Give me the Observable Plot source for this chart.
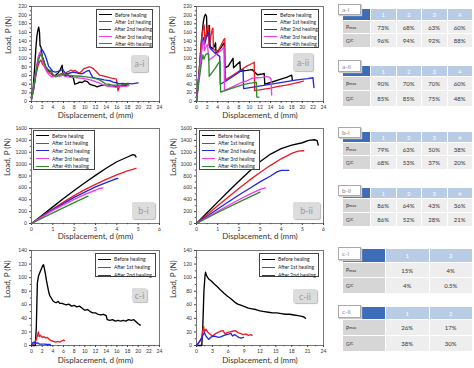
<!DOCTYPE html>
<html><head><meta charset="utf-8">
<script src="https://cdn.jsdelivr.net/npm/d3@7"></script>
<script src="https://cdn.jsdelivr.net/npm/@observablehq/plot@0.6"></script>
<style>
body{margin:0;background:#fff;font-family:Lato,"Open Sans",sans-serif;}
#root{position:relative;width:474px;height:368px;overflow:hidden;background:#fff;}
.abs{position:absolute;}
.legend{position:absolute;border:1px solid #444;background:#fff;box-sizing:border-box;font-size:5px;color:#222;padding:1px 0 0 2px;}
.legend .row{display:flex;align-items:center;white-space:nowrap;}
.legend .sw{display:inline-block;width:13px;height:0;margin-right:3px;}
.tagbox{position:absolute;background:#dcdcdc;border-radius:2px;box-shadow:1px 1px 1px #bbb;color:#9a9a9a;font-size:9px;display:flex;align-items:center;justify-content:center;}
.tbl{position:absolute;display:grid;gap:1px;background:#fff;}
.tbl div{display:flex;align-items:center;justify-content:center;font-size:6px;color:#333;}
.tbl .hd0{background:#3d6db8;}
.tbl .hd{background:#b8cce6;color:#fff;}
.tbl .lab{background:#d6d6d6;justify-content:flex-start;padding-left:3px;font-size:5px;}
.tbl .cell{background:#eeeeee;}
.tab{position:absolute;background:#fff;border:1px solid #aaa;box-shadow:1px 1px 1px #ccc;color:#888;font-size:6.5px;box-sizing:border-box;padding-left:3px;display:flex;align-items:center;}
</style>
</head><body><div id="root"></div>
<script>
// ---------- data ----------
const legend5 = ["Before healing","After 1st healing","After 2nd healing","After 3rd healing","After 4th healing"];
const legend3 = ["Before healing","After 1st healing","After 2nd healing"];
const seriesColors = ["#000000","#ec1c24","#2128e0","#f03cf0","#2e8b2e"];

// a-i : Load (N) vs displacement (mm)
const ai_before = [[0,8],[0.3,30],[0.6,80],[0.8,120],[1.0,150],[1.2,165],[1.35,172],[1.5,160],[1.6,130],[1.8,125],[2.0,105],[2.3,95],[2.6,82],[3.0,75],[3.3,70],[3.6,72],[3.9,62],[4.2,58],[4.6,62],[5.0,66],[5.4,74],[5.75,84],[5.9,62],[6.3,60],[6.8,62],[7.2,58],[7.6,60],[7.9,52],[8.1,40],[8.6,42],[9.0,45],[9.5,44],[10.0,48],[10.5,46],[10.9,40],[11.4,38],[11.9,36],[12.3,34],[12.8,36],[13.4,38],[14.0,37],[14.5,36],[15.0,35],[15.5,36],[16.0,34],[16.5,36],[17.0,37],[17.5,36],[18.0,39],[18.2,41]];
const ai_h1 = [[0,5],[0.4,30],[0.8,60],[1.2,82],[1.5,92],[1.75,96],[2.0,88],[2.3,83],[2.7,76],[3.0,70],[3.3,67],[3.7,64],[4.1,60],[4.5,58],[4.9,60],[5.3,63],[5.8,65],[6.2,62],[6.6,68],[7.0,70],[7.4,73],[7.8,70],[8.2,72],[8.6,68],[9.0,66],[9.4,70],[9.8,76],[10.3,78],[10.8,80],[11.2,79],[11.6,76],[12.0,71],[12.4,66],[12.8,61],[13.2,60],[13.8,58],[14.4,56],[15.0,54],[15.5,53],[15.9,52],[16.1,40],[16.2,25],[16.5,34],[17.0,39],[17.5,40],[18.0,42]];
const ai_h2 = [[0,5],[0.4,28],[0.8,62],[1.2,92],[1.6,112],[1.95,121],[2.2,116],[2.6,106],[2.9,95],[3.2,82],[3.6,76],[4.0,70],[4.5,68],[5.0,70],[5.5,72],[5.9,74],[6.3,66],[6.7,64],[7.2,66],[7.8,68],[8.3,67],[8.8,65],[9.3,64],[9.8,66],[10.3,70],[10.8,72],[11.2,62],[11.5,56],[12.0,54],[12.5,53],[13.0,52],[13.6,50],[14.2,49],[14.8,48],[15.3,45],[15.8,44],[16.4,41],[17.0,42],[17.6,41],[18.2,42],[18.8,41],[19.4,42],[20.0,43]];
const ai_h3 = [[0,5],[0.4,32],[0.8,70],[1.2,100],[1.5,112],[1.7,115],[1.9,105],[2.2,88],[2.5,78],[2.9,68],[3.3,62],[3.8,57],[4.3,58],[4.8,60],[5.3,58],[5.8,61],[6.3,58],[6.8,57],[7.4,56],[8.0,56],[8.6,55],[9.2,54],[9.8,53],[10.4,52],[11.0,50],[11.6,48],[12.3,45],[12.9,42],[13.5,38],[14.1,37],[14.7,35],[15.3,34],[15.9,33],[16.5,34],[17.1,35],[17.7,35],[18.3,37]];
const ai_h4 = [[0,6],[0.4,30],[0.8,66],[1.2,92],[1.5,104],[1.85,110],[2.1,100],[2.4,88],[2.7,80],[3.1,74],[3.6,71],[4.0,64],[4.5,57],[5.0,60],[5.5,63],[6.0,64],[6.5,62],[7.0,61],[7.6,60],[8.2,59],[8.8,59],[9.5,58],[10.2,57],[10.8,56],[11.4,55],[12.0,53],[12.5,51],[12.9,49],[13.4,45],[13.9,41],[14.5,40],[15.2,38],[15.8,38],[16.4,37],[17.0,38],[17.6,39],[18.2,41]];

// a-ii
const aii_before = [[0,0],[0.5,70],[1.0,150],[1.3,185],[1.5,197],[1.7,202],[1.9,197],[2.0,152],[2.3,172],[2.45,176],[2.55,128],[3.0,122],[3.4,128],[3.6,136],[3.7,110],[4.2,118],[4.7,126],[5.1,134],[5.25,136],[5.35,78],[6.0,82],[6.5,92],[6.9,100],[7.0,78],[7.6,85],[8.2,92],[8.3,70],[9.5,72],[10.5,74],[11.5,62],[12.2,63],[12.8,65],[12.9,40],[14.0,44],[15.5,50],[17.0,56],[18.0,61],[18.1,50]];
const aii_h1 = [[0,0],[0.5,70],[1.0,150],[1.3,172],[1.45,177],[1.6,140],[1.9,160],[2.1,172],[2.25,176],[2.35,130],[2.7,150],[3.0,168],[3.1,170],[3.2,122],[3.7,115],[4.2,120],[4.7,132],[5.1,142],[5.35,146],[5.45,50],[6.5,58],[7.5,66],[8.5,74],[9.5,82],[10.5,88],[10.9,91],[11.0,25],[12.5,28],[14.0,31],[15.5,35],[17.0,38],[18.5,42],[20.2,47]];
const aii_h2 = [[0,0],[0.5,65],[1.0,125],[1.3,148],[1.5,130],[1.8,145],[2.1,155],[2.4,160],[2.5,125],[3.0,118],[3.5,112],[4.0,108],[4.4,104],[4.5,40],[5.5,47],[6.5,55],[7.5,63],[8.5,72],[8.8,74],[8.9,30],[11,34],[13,38],[15,42],[17,46],[19,50],[21,53],[22.0,55],[22.2,32]];
const aii_h3 = [[0,0],[0.5,60],[1.0,120],[1.2,138],[1.4,140],[1.5,118],[1.8,128],[2.1,132],[2.3,95],[2.8,100],[3.3,105],[3.8,110],[4.3,115],[4.8,120],[5.1,125],[5.2,126],[5.3,25],[6.5,32],[7.5,38],[8.5,44],[9.5,48],[10.2,52],[10.5,54],[11.5,55],[12.5,56],[13.2,58],[13.8,56],[14.1,52],[14.2,15]];
const aii_h4 = [[0,0],[0.5,50],[1.0,95],[1.2,108],[1.4,98],[1.7,108],[2.0,111],[2.3,110],[2.4,58],[3.0,68],[3.5,76],[4.0,86],[4.3,91],[4.45,92],[4.55,22],[5.5,26],[6.5,30],[7.5,34],[8.5,38],[9.5,41],[10.5,43],[11.3,45],[11.4,10],[11.8,10]];

// b-i
const bi_before = [[0,0],[0.5,140],[1,280],[1.5,420],[2,555],[2.5,685],[3,810],[3.5,930],[4,1040],[4.5,1120],[4.75,1160],[4.85,1150],[4.9,1120]];
const bi_h1 = [[0,0],[0.5,125],[1,245],[1.5,360],[2,470],[2.5,570],[3,660],[3.5,745],[4,820],[4.5,885],[4.9,930]];
const bi_h2 = [[0,0],[1,235],[2,440],[2.5,530],[3,615],[3.5,690],[3.9,745],[4.05,760]];
const bi_h3 = [[0,0],[1,220],[2,405],[2.5,490],[3,560],[3.2,590],[3.35,600]];
const bi_h4 = [[0,0],[1,180],[2,350],[2.65,460]];

// b-ii
const bii_before = [[0,0],[0.5,180],[1,360],[1.5,540],[2,710],[2.5,880],[3,1040],[3.5,1170],[4,1260],[4.5,1320],[5,1360],[5.3,1400],[5.6,1410],[5.7,1395],[5.75,1320]];
const bii_h1 = [[0,0],[1,300],[2,590],[2.5,730],[3,860],[3.5,980],[4,1090],[4.5,1180],[4.8,1220],[5.07,1225]];
const bii_h2 = [[0,0],[1,245],[2,480],[2.5,590],[3,700],[3.5,800],[3.8,870],[4.0,895],[4.36,895]];
const bii_h3 = [[0,0],[1,205],[2,400],[2.5,490],[3,575],[3.26,600]];
const bii_h4 = [[0,0],[1,185],[2,360],[3,530]];

// c-i
const ci_before = [[0,0],[0.7,0],[0.9,25],[1.0,60],[1.1,92],[1.3,102],[1.5,106],[1.7,110],[1.9,114],[2.1,118],[2.25,119],[2.4,114],[2.6,106],[2.8,96],[3.0,88],[3.2,80],[3.4,74],[3.7,70],[4.0,66],[4.3,64],[4.6,63],[5.0,65],[5.3,62],[5.7,62],[6.1,61],[6.5,60],[7.0,61],[7.5,58],[8.0,59],[8.5,57],[9.0,58],[9.5,55],[10.0,52],[10.5,53],[11.0,50],[11.5,48],[12.0,48],[12.5,46],[13.0,45],[13.5,46],[14.0,44],[14.2,38],[14.7,37],[15.2,38],[15.7,36],[16.2,37],[16.7,36],[17.2,37],[17.7,36],[18.2,38],[18.7,37],[19.2,38],[19.6,35],[20.0,32],[20.4,30]];
const ci_h1 = [[0,0],[0.4,2],[0.7,6],[0.9,9],[1.1,14],[1.3,20],[1.45,13],[1.7,15],[2.0,12],[2.3,13],[2.7,11],[3.0,12],[3.3,9],[3.7,7],[4.1,6],[4.5,5],[4.9,6],[5.3,5],[5.7,7],[6.0,8],[6.2,7]];
const ci_h2 = [[0,0],[0.2,4],[0.5,5],[0.8,3],[1.1,4],[1.5,2],[2.0,2],[2.5,2],[3.0,1.5],[3.5,1.5],[3.6,0]];

// c-ii
const cii_before = [[0,0],[1.0,0],[1.2,30],[1.4,80],[1.6,102],[1.7,108],[1.9,103],[2.3,98],[2.8,95],[3.3,91],[3.9,87],[4.5,82],[5.2,77],[5.8,73],[6.5,69],[7.2,64],[7.8,61],[8.5,59],[9.2,57],[9.8,55],[10.5,54],[11.2,53],[12.0,51],[12.8,50],[13.6,49],[14.4,48],[15.2,48],[16.0,47],[16.8,46],[17.6,46],[18.4,45],[19.2,44],[19.9,43],[20.3,42],[20.6,40]];
const cii_h1 = [[0,0],[0.6,6],[1.0,12],[1.2,22],[1.35,28],[1.5,20],[1.8,24],[2.1,20],[2.5,17],[3.0,14],[3.5,17],[4.0,19],[4.5,21],[5.0,22],[5.4,17],[5.8,19],[6.3,20],[6.8,21],[7.3,22],[7.8,19],[8.3,18],[8.8,16],[9.3,17],[9.8,15],[10.3,16],[10.5,15]];
const cii_h2 = [[0,0],[0.6,6],[1.0,11],[1.3,17],[1.5,19],[1.7,15],[2.0,12],[2.3,9],[2.7,12],[3.2,14],[3.7,13],[4.2,12],[4.7,13],[5.2,15],[5.7,16],[6.2,17],[6.5,18],[6.8,14],[7.2,16],[7.6,14],[8.0,12],[8.4,11],[8.9,12]];

// tick values
const ticksX24 = [0,2,4,6,8,10,12,14,16,18,20,22,24];
const ticksX24by3 = [0,3,6,9,12,15,18,21,24];
const ticksX6 = [0,1,2,3,4,5,6];
const ticksY220 = [0,20,40,60,80,100,120,140,160,180,200,220];
const ticksY1600 = [0,200,400,600,800,1000,1200,1400,1600];
const ticksY140 = [0,20,40,60,80,100,120,140];

// tables
const tableHead4 = ["1","2","3","4"];
const tableHead2 = ["1","2"];
const rowLabels = ["Pmax","GIC"];
const ai_pmax = ["73%","68%","63%","60%"],  ai_gic = ["96%","94%","92%","88%"];
const aii_pmax = ["90%","70%","70%","60%"], aii_gic = ["85%","85%","75%","48%"];
const bi_pmax = ["79%","63%","50%","38%"],  bi_gic = ["68%","53%","37%","20%"];
const bii_pmax = ["86%","64%","43%","36%"], bii_gic = ["86%","52%","28%","21%"];
const ci_pmax = ["15%","4%"],  ci_gic = ["4%","0.5%"];
const cii_pmax = ["26%","17%"], cii_gic = ["38%","30%"];

// ---------- drawing ----------
const root = document.getElementById("root");

function minorOf(ticks){ const out=[]; for(let i=0;i<ticks.length-1;i++) out.push((ticks[i]+ticks[i+1])/2); return out; }
const plainFmt = d => String(d);

function panel(p){
  const marks = [
    Plot.frame({stroke:"#555", strokeWidth:0.8}),
    Plot.axisX({ticks:p.xt, tickSize:2, tickPadding:1.5, fontSize:5, label:null, tickFormat:plainFmt, stroke:"#444", fill:"#333"}),
    Plot.axisX({ticks:minorOf(p.xt), tickSize:1.2, tickFormat:()=>"", label:null, stroke:"#444"}),
    Plot.axisY({ticks:p.yt, tickSize:2, tickPadding:2.5, fontSize:5, label:null, tickFormat:plainFmt, stroke:"#444", fill:"#333"}),
    Plot.axisY({ticks:minorOf(p.yt), tickSize:1.2, tickFormat:()=>"", label:null, stroke:"#444"}),
    ...p.series.map((s,i)=>Plot.line(s,{x:d=>d[0], y:d=>d[1], stroke:seriesColors[i], strokeWidth:1.35})),
    Plot.text(["Displacement, d (mm)"],{frameAnchor:"bottom", dy:p.xlabDy, text:d=>d, fontSize:8, fill:"#333"}),
    Plot.text(["Load, P (N)"],{frameAnchor:"left", dx:p.ylabDx, rotate:-90, text:d=>d, fontSize:8, fill:"#333"})
  ];
  const svg = Plot.plot({
    width:p.w, height:p.h,
    marginLeft:p.ml, marginRight:p.mr, marginTop:p.mt, marginBottom:p.mb,
    x:{domain:p.xd}, y:{domain:p.yd},
    style:{fontFamily:"Lato, 'Open Sans', sans-serif", background:"transparent", overflow:"visible"},
    marks
  });
  const wrap = document.createElement("div");
  wrap.className="abs"; wrap.style.left=p.left+"px"; wrap.style.top=p.top+"px";
  wrap.appendChild(svg); root.appendChild(wrap);

  // legend
  const lg = document.createElement("div");
  lg.className="legend";
  Object.assign(lg.style,{left:p.lg[0]+"px", top:p.lg[1]+"px", width:p.lg[2]+"px", height:p.lg[3]+"px"});
  p.labels.forEach((t,i)=>{
    const r=document.createElement("div"); r.className="row"; r.style.height=p.lgRow+"px";
    const sw=document.createElement("span"); sw.className="sw"; sw.style.borderTop="1.5px solid "+seriesColors[i];
    r.appendChild(sw); r.appendChild(document.createTextNode(t)); lg.appendChild(r);
  });
  root.appendChild(lg);

  // tag box
  const tg=document.createElement("div"); tg.className="tagbox";
  Object.assign(tg.style,{left:p.tag[0]+"px", top:p.tag[1]+"px", width:p.tag[2]+"px", height:p.tag[3]+"px"});
  tg.textContent=p.name; root.appendChild(tg);
}

function table(t){
  const g=document.createElement("div"); g.className="tbl";
  Object.assign(g.style,{left:t.x+"px", top:t.y+"px", width:t.w+"px",
    gridTemplateColumns:t.c0+"px repeat("+t.head.length+",1fr)", gridTemplateRows:t.rows.map(r=>r+"px").join(" ")});
  const add=(cls,html)=>{const d=document.createElement("div"); d.className=cls; d.innerHTML=html; g.appendChild(d);};
  add("hd0","");
  t.head.forEach(h=>add("hd",h));
  const lab = l => l==="Pmax" ? 'P<span style="font-size:4px">max</span>' : 'G<span style="font-size:4px">IC</span>';
  add("lab",lab(rowLabels[0])); t.pmax.forEach(v=>add("cell",v));
  add("lab",lab(rowLabels[1])); t.gic.forEach(v=>add("cell",v));
  root.appendChild(g);
  const tb=document.createElement("div"); tb.className="tab";
  Object.assign(tb.style,{left:"338px", top:t.ty+"px", width:"23px", height:t.th+"px"});
  tb.textContent=t.name; root.appendChild(tb);
}

const A = {xd:[0,24], yd:[0,220], xt:ticksX24, yt:ticksY220, labels:legend5, lgRow:7.3};
panel({...A, name:"a-i", left:0, top:0, w:162, h:122, ml:31, mr:3, mt:6, mb:21, xlabDy:16, ylabDx:-23,
  series:[ai_before,ai_h1,ai_h2,ai_h3,ai_h4], lg:[96,9,57,39], tag:[131,55,17,17]});
panel({...A, name:"a-ii", left:162, top:0, w:164, h:122, ml:34, mr:3, mt:6, mb:21, xlabDy:16, ylabDx:-24,
  series:[aii_before,aii_h1,aii_h2,aii_h3,aii_h4], lg:[261,9,58,39], tag:[293,53,20,18]});
const B = {xd:[0,6], yd:[0,1600], xt:ticksX6, yt:ticksY1600, labels:legend5, lgRow:7.6};
panel({...B, name:"b-i", left:0, top:122, w:162, h:120, ml:31, mr:3, mt:6, mb:19, xlabDy:15, ylabDx:-24,
  series:[bi_before,bi_h1,bi_h2,bi_h3,bi_h4], lg:[33,130,62,40], tag:[132,202,23,17]});
panel({...B, name:"b-ii", left:162, top:122, w:164, h:120, ml:34, mr:3, mt:6, mb:19, xlabDy:15, ylabDx:-23,
  series:[bii_before,bii_h1,bii_h2,bii_h3,bii_h4], lg:[199,130,61,40], tag:[293,202,27,17]});
const C = {xd:[0,24], yd:[0,140], yt:ticksY140, labels:legend3, lgRow:8.2};
panel({...C, name:"c-i", xt:ticksX24, left:0, top:242, w:162, h:126, ml:31, mr:3, mt:8, mb:23, xlabDy:17, ylabDx:-24,
  series:[ci_before,ci_h1,ci_h2], lg:[95,253,61,24], tag:[132,288,15,14]});
panel({...C, name:"c-ii", xt:ticksX24by3, left:162, top:242, w:164, h:126, ml:34, mr:3, mt:8, mb:23, xlabDy:17, ylabDx:-23,
  series:[cii_before,cii_h1,cii_h2], lg:[259,253,60,24], tag:[293,289,24,14]});

table({name:"a-i",  x:343, y:9,   w:129, c0:27, head:tableHead4, rows:[11,12,13], pmax:ai_pmax,  gic:ai_gic,  ty:4,   th:11});
table({name:"a-ii", x:343, y:66,  w:129, c0:27, head:tableHead4, rows:[10,13,15], pmax:aii_pmax, gic:aii_gic, ty:60,  th:12});
table({name:"b-i",  x:343, y:132, w:129, c0:27, head:tableHead4, rows:[10,12,13], pmax:bi_pmax,  gic:bi_gic,  ty:127, th:11});
table({name:"b-ii", x:343, y:188, w:129, c0:27, head:tableHead4, rows:[10,13,13], pmax:bii_pmax, gic:bii_gic, ty:185, th:11});
table({name:"c-i",  x:343, y:249, w:129, c0:42, head:tableHead2, rows:[13,14,15], pmax:ci_pmax,  gic:ci_gic,  ty:247, th:13});
table({name:"c-ii", x:343, y:307, w:129, c0:42, head:tableHead2, rows:[12,15,15], pmax:cii_pmax, gic:cii_gic, ty:305, th:13});
</script>
</body></html>
